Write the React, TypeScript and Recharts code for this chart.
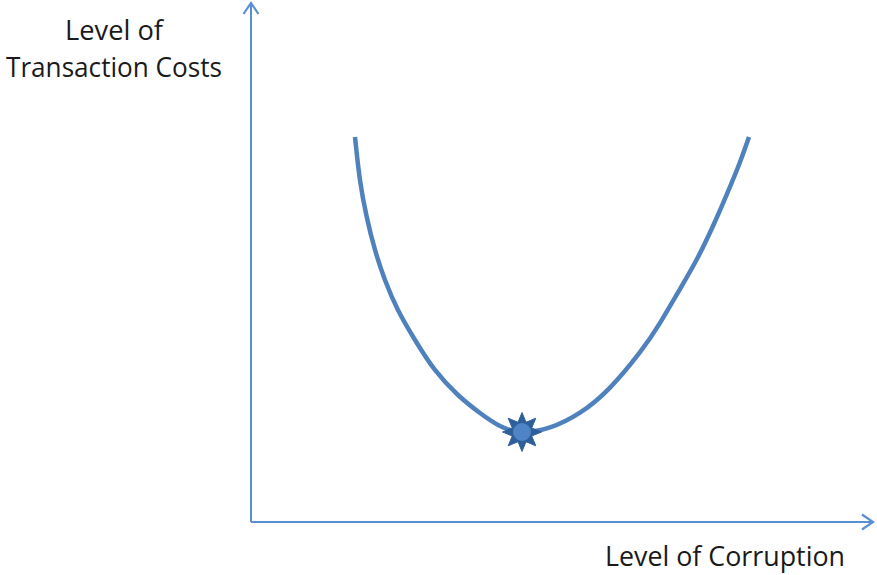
import React from 'react';
import { LineChart, Line, XAxis, YAxis, ReferenceDot, ReferenceLine } from 'recharts';

// Curve points (abstract units: x 0..100 along corruption, y 0..100 along costs)
const corruptionLevels = [
  16.72, 17.52, 18.6, 19.94, 21.54, 23.63, 26.37, 29.58, 33.28, 36.82, 40.03, 43.57,
  48.07, 52.89, 57.72, 62.54, 65.76, 68.97, 71.7, 74.28, 76.53, 78.62, 80.06,
];
const transactionCosts = [
  74.18, 65.9, 58.82, 52.41, 46.63, 40.85, 35.07, 29.29, 24.47, 21.0, 18.5, 17.34,
  18.21, 21.06, 25.9, 32.72, 38.36, 44.89, 50.67, 57.03, 63.2, 69.36, 74.18,
];
const optimum = { x: 43.57, y: 17.34 };
const yTitleLines = ['Level of', 'Transaction Costs'];
const xTitle = 'Level of Corruption';

const data = corruptionLevels.map((x, i) => ({ x, y: transactionCosts[i] }));

const AXIS = '#5a8ed2';
const CURVE = '#4f81bd';

const ArrowUp = (props: any) => {
  const { cx, cy } = props;
  if (cx == null || cy == null) return null;
  return (
    <path d={`M${cx - 7.5},${cy + 11} L${cx},${cy} L${cx + 7.5},${cy + 11}`} fill="none" stroke={AXIS} strokeWidth={2.2} strokeLinejoin="miter" />
  );
};

const ArrowRight = (props: any) => {
  const { cx, cy } = props;
  if (cx == null || cy == null) return null;
  return (
    <path d={`M${cx - 11},${cy - 7.5} L${cx},${cy} L${cx - 11},${cy + 7.5}`} fill="none" stroke={AXIS} strokeWidth={2.2} strokeLinejoin="miter" />
  );
};

const Star = (props: any) => {
  const { cx, cy } = props;
  if (cx == null || cy == null) return null;
  const pts: string[] = [];
  const n = 8;
  const R = 19.5;
  const r = 10.5;
  for (let i = 0; i < n * 2; i++) {
    const a = (Math.PI * i) / n - Math.PI / 2;
    const rad = i % 2 === 0 ? R : r;
    pts.push(`${cx + rad * Math.cos(a)},${cy + rad * Math.sin(a)}`);
  }
  return (
    <g>
      <polygon points={pts.join(' ')} fill="#2f5f99" stroke="#2f5f99" strokeWidth={1} strokeLinejoin="round" />
      <circle cx={cx} cy={cy} r={9} fill="#4f85c6" />
    </g>
  );
};

export default function App() {
  return (
    <div style={{ position: 'absolute', left: 0, top: 0, width: 877, height: 575, background: '#fff' }}>
      <LineChart width={877} height={575} data={data} margin={{ top: 3, right: 4, left: 251, bottom: 53 }}>
        <XAxis type="number" dataKey="x" domain={[0, 100]} hide />
        <YAxis type="number" domain={[0, 100]} hide />
        <ReferenceLine
          segment={[{ x: 0, y: 0 }, { x: 100, y: 0 }]}
          stroke={AXIS}
          strokeWidth={2}
          ifOverflow="visible"
        />
        <ReferenceLine
          segment={[{ x: 0, y: 0 }, { x: 0, y: 100 }]}
          stroke={AXIS}
          strokeWidth={2}
          ifOverflow="visible"
        />
        <Line
          type="natural"
          dataKey="y"
          stroke={CURVE}
          strokeWidth={4.5}
          dot={false}
          activeDot={false}
          isAnimationActive={false}
        />
        <ReferenceDot x={100} y={0} r={0} shape={ArrowRight} ifOverflow="visible" />
        <ReferenceDot x={0} y={100} r={0} shape={ArrowUp} ifOverflow="visible" />
        <ReferenceDot x={optimum.x} y={optimum.y} r={0} shape={Star} ifOverflow="visible" />
      </LineChart>
      <svg width={877} height={575} style={{ position: 'absolute', left: 0, top: 0, pointerEvents: 'none' }}>
        <g fontFamily="'Open Sans', sans-serif" fontSize={27} fill="#1a1a1a">
          <text x={114} y={40} textAnchor="middle" textLength={98} lengthAdjust="spacingAndGlyphs">{yTitleLines[0]}</text>
          <text x={114} y={77} textAnchor="middle" textLength={216} lengthAdjust="spacingAndGlyphs">{yTitleLines[1]}</text>
          <text x={725} y={566} textAnchor="middle" textLength={240} lengthAdjust="spacingAndGlyphs">{xTitle}</text>
        </g>
      </svg>
    </div>
  );
}
